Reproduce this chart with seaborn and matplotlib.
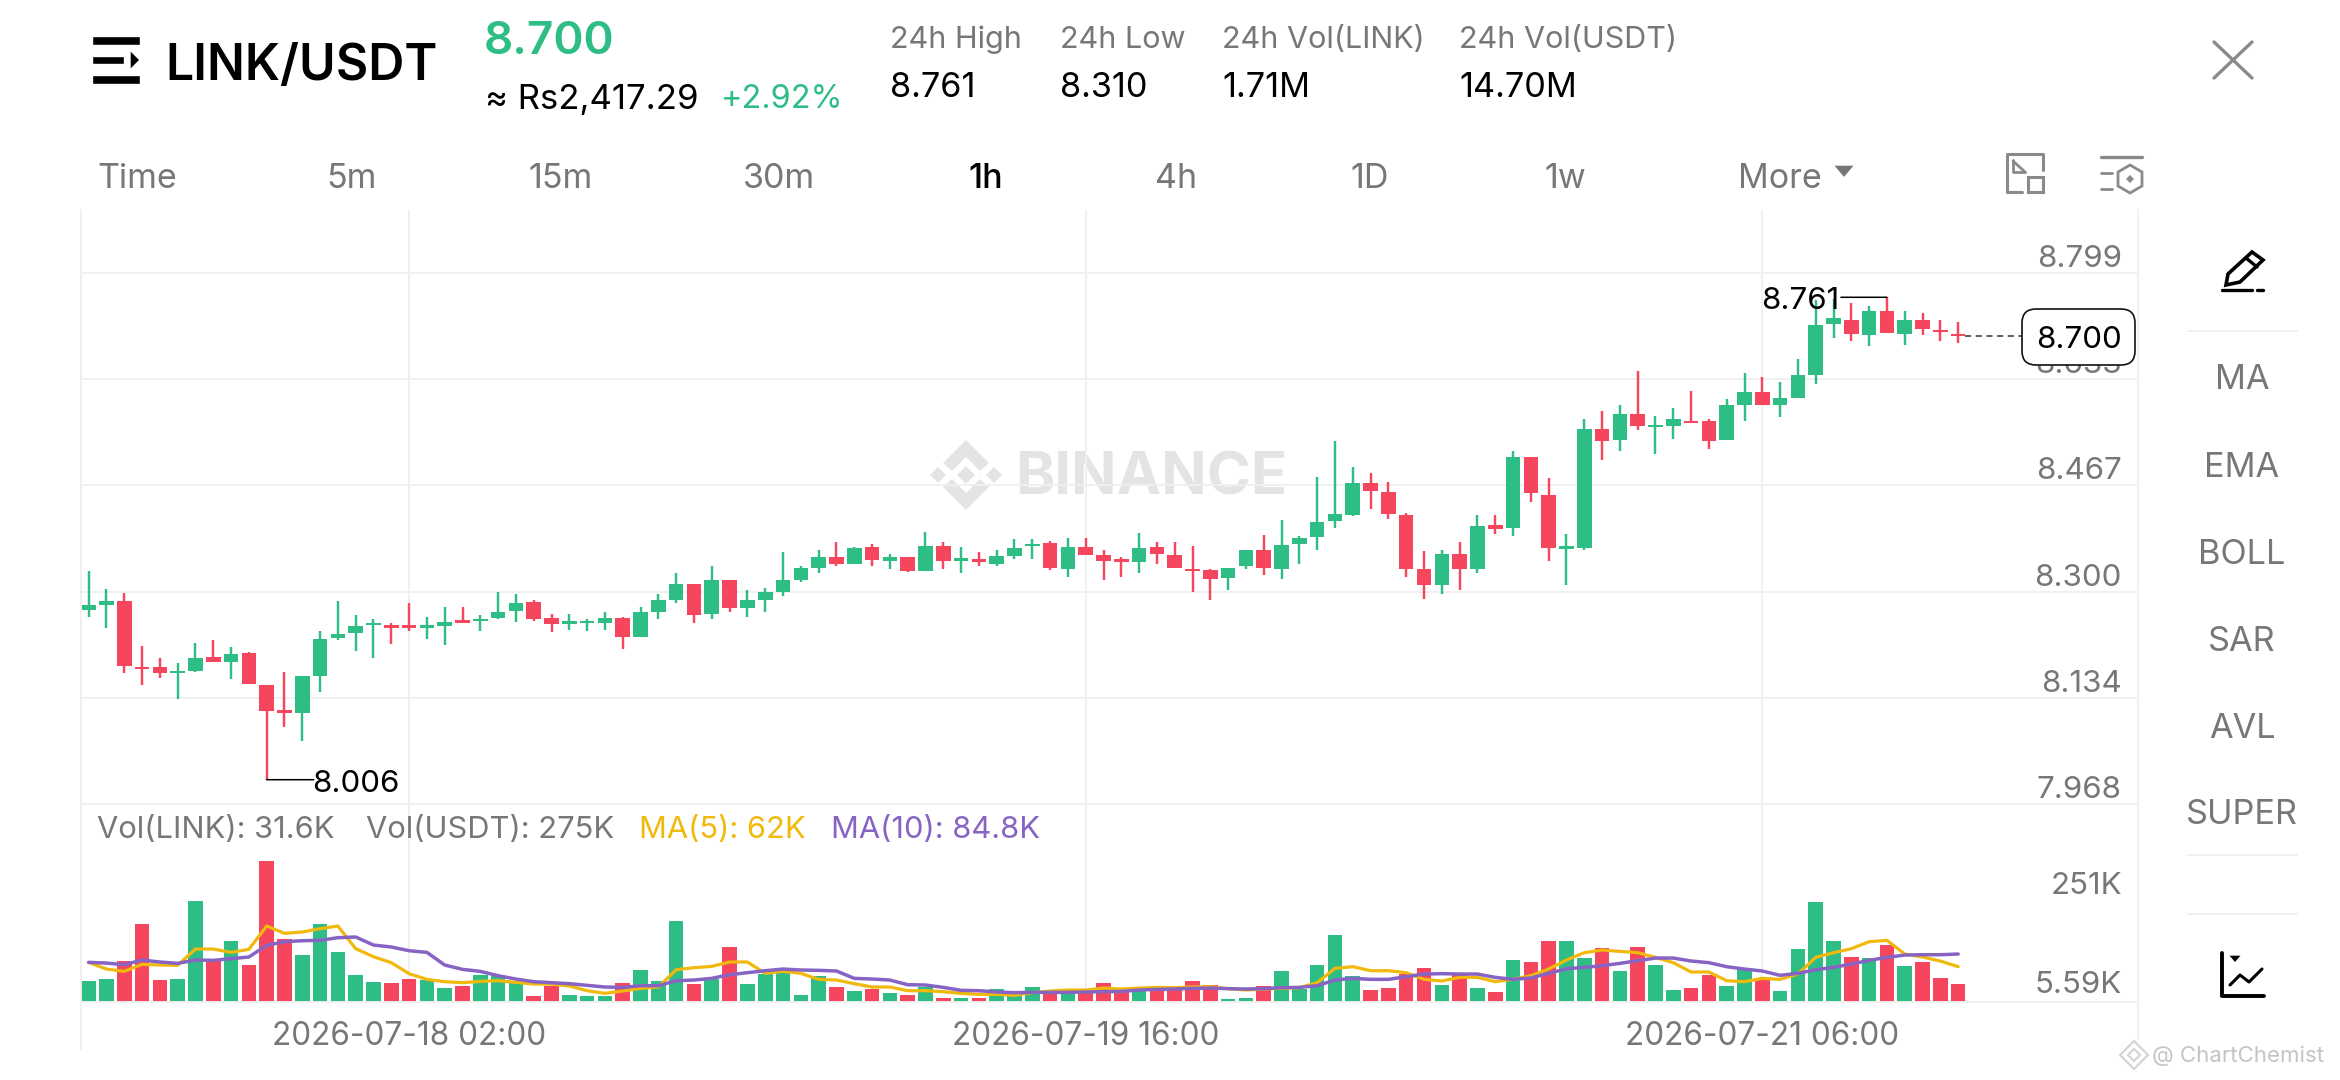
# LINK/USDT 1h candles with volume panel, Binance app style
import numpy as np
import pandas as pd
import seaborn as sns
import matplotlib.pyplot as plt
from matplotlib.patches import FancyBboxPatch, Polygon, Rectangle

opens = [8.271, 8.280, 8.286, 8.182, 8.182, 8.173, 8.176, 8.198, 8.190, 8.204,
         8.154, 8.115, 8.111, 8.169, 8.228, 8.235, 8.248, 8.248, 8.248, 8.244,
         8.247, 8.256, 8.254, 8.259, 8.270, 8.284, 8.259, 8.250, 8.252, 8.252,
         8.259, 8.230, 8.269, 8.288, 8.313, 8.265, 8.319, 8.275, 8.288, 8.300,
         8.319, 8.337, 8.355, 8.344, 8.370, 8.349, 8.354, 8.332, 8.371, 8.348,
         8.352, 8.344, 8.356, 8.371, 8.376, 8.336, 8.370, 8.358, 8.351, 8.346,
         8.370, 8.358, 8.335, 8.334, 8.321, 8.340, 8.366, 8.336, 8.375, 8.386,
         8.411, 8.421, 8.471, 8.457, 8.421, 8.335, 8.311, 8.360, 8.336, 8.404,
         8.400, 8.511, 8.452, 8.367, 8.368, 8.555, 8.537, 8.578, 8.558, 8.560,
         8.568, 8.568, 8.537, 8.593, 8.612, 8.592, 8.603, 8.640, 8.719, 8.726,
         8.702, 8.740, 8.704, 8.726, 8.710, 8.704]
highs = [8.333, 8.305, 8.298, 8.215, 8.196, 8.189, 8.220, 8.225, 8.213, 8.206,
         8.154, 8.174, 8.168, 8.238, 8.286, 8.263, 8.257, 8.252, 8.282, 8.260,
         8.277, 8.276, 8.263, 8.300, 8.296, 8.287, 8.265, 8.266, 8.258, 8.268,
         8.261, 8.276, 8.296, 8.330, 8.313, 8.341, 8.319, 8.303, 8.306, 8.362,
         8.340, 8.365, 8.378, 8.370, 8.375, 8.360, 8.354, 8.393, 8.378, 8.370,
         8.362, 8.365, 8.382, 8.382, 8.379, 8.385, 8.385, 8.366, 8.354, 8.392,
         8.378, 8.378, 8.372, 8.335, 8.338, 8.366, 8.389, 8.412, 8.388, 8.480,
         8.536, 8.496, 8.486, 8.472, 8.424, 8.364, 8.366, 8.378, 8.421, 8.420,
         8.521, 8.511, 8.478, 8.390, 8.571, 8.583, 8.592, 8.646, 8.575, 8.587,
         8.615, 8.571, 8.602, 8.642, 8.637, 8.629, 8.665, 8.756, 8.759, 8.752,
         8.747, 8.761, 8.740, 8.736, 8.725, 8.722]
lows = [8.261, 8.243, 8.173, 8.154, 8.165, 8.133, 8.174, 8.190, 8.164, 8.156,
        8.006, 8.089, 8.067, 8.144, 8.224, 8.208, 8.197, 8.218, 8.238, 8.227,
        8.217, 8.252, 8.238, 8.257, 8.253, 8.255, 8.237, 8.241, 8.239, 8.240,
        8.211, 8.230, 8.258, 8.282, 8.252, 8.257, 8.268, 8.261, 8.269, 8.294,
        8.315, 8.329, 8.340, 8.343, 8.340, 8.336, 8.331, 8.332, 8.335, 8.330,
        8.340, 8.340, 8.352, 8.351, 8.334, 8.324, 8.357, 8.319, 8.324, 8.329,
        8.344, 8.338, 8.299, 8.287, 8.303, 8.335, 8.327, 8.320, 8.343, 8.366,
        8.400, 8.419, 8.429, 8.414, 8.324, 8.289, 8.296, 8.303, 8.329, 8.390,
        8.388, 8.441, 8.348, 8.310, 8.365, 8.506, 8.521, 8.554, 8.515, 8.540,
        8.565, 8.524, 8.537, 8.568, 8.592, 8.573, 8.603, 8.626, 8.698, 8.693,
        8.684, 8.705, 8.687, 8.702, 8.692, 8.690]
closes = [8.279, 8.286, 8.184, 8.179, 8.173, 8.176, 8.197, 8.190, 8.203, 8.156,
          8.114, 8.111, 8.168, 8.227, 8.234, 8.247, 8.252, 8.244, 8.244, 8.248,
          8.253, 8.252, 8.258, 8.268, 8.283, 8.258, 8.250, 8.254, 8.255, 8.259,
          8.230, 8.268, 8.287, 8.313, 8.264, 8.318, 8.274, 8.287, 8.300, 8.318,
          8.337, 8.355, 8.344, 8.369, 8.350, 8.354, 8.332, 8.371, 8.349, 8.353,
          8.346, 8.356, 8.369, 8.375, 8.337, 8.370, 8.358, 8.349, 8.346, 8.369,
          8.359, 8.338, 8.332, 8.320, 8.338, 8.366, 8.338, 8.374, 8.385, 8.410,
          8.422, 8.471, 8.458, 8.422, 8.335, 8.310, 8.360, 8.336, 8.403, 8.399,
          8.511, 8.454, 8.368, 8.371, 8.555, 8.536, 8.579, 8.559, 8.561, 8.570,
          8.565, 8.536, 8.593, 8.613, 8.592, 8.603, 8.640, 8.718, 8.728, 8.703,
          8.740, 8.705, 8.726, 8.712, 8.706, 8.700]

# volume in thousands
volumes = [39.1, 41.8, 70.9, 130.9, 40.2, 42.3, 168.1, 70.9, 104.4, 65.0,
           233.5, 107.7, 81.2, 131.4, 86.6, 48.3, 37.5, 35.8, 41.8, 40.7,
           27.7, 31.0, 48.3, 47.7, 38.0, 14.2, 31.5, 16.9, 14.8, 15.3,
           35.3, 56.9, 38.5, 136.8, 34.2, 41.8, 94.2, 34.2, 50.4, 54.2,
           16.4, 47.2, 29.9, 22.3, 26.7, 19.6, 16.9, 28.8, 12.1, 11.5,
           12.1, 25.6, 16.4, 29.9, 21.8, 21.8, 21.8, 36.4, 27.2, 24.5,
           27.2, 24.5, 39.1, 32.6, 9.9, 12.1, 31.5, 54.7, 25.6, 65.0,
           113.1, 47.2, 24.0, 27.7, 50.4, 60.1, 33.1, 49.3, 27.2, 20.7,
           73.1, 69.3, 103.9, 103.9, 75.8, 93.1, 55.8, 94.7, 65.0, 24.0,
           27.2, 48.8, 31.5, 59.6, 40.7, 22.9, 90.4, 167.1, 103.3, 78.0,
           76.9, 96.9, 63.4, 70.4, 43.9, 33.7]
ma5 = [69.3, 58.5, 54.7, 66.1, 65.0, 64.5, 90.9, 90.9, 85.5, 90.4,
       128.2, 116.3, 118.5, 123.9, 128.2, 91.5, 78.5, 68.8, 51.0, 41.8,
       38.0, 36.4, 38.5, 39.6, 36.9, 34.2, 34.2, 31.0, 23.4, 19.1,
       22.9, 27.2, 29.4, 57.4, 60.7, 62.8, 69.9, 69.9, 51.5, 54.7,
       51.5, 41.8, 40.7, 34.8, 29.4, 29.4, 23.4, 23.4, 21.8, 19.1,
       17.5, 17.5, 15.9, 20.2, 22.9, 24.5, 24.5, 27.7, 26.1, 27.7,
       28.8, 28.3, 29.4, 29.9, 26.7, 24.5, 26.1, 27.2, 28.3, 36.4,
       59.6, 62.3, 55.8, 55.8, 52.6, 41.8, 39.1, 45.0, 45.0, 38.0,
       41.8, 47.7, 58.5, 73.1, 85.0, 89.3, 87.1, 85.0, 77.4, 68.8,
       53.7, 53.7, 39.6, 38.0, 43.4, 41.8, 50.4, 77.4, 85.0, 91.5,
       102.8, 105.0, 82.8, 78.0, 71.5, 62.3]
ma10 = [69.3, 68.2, 65.5, 73.1, 69.9, 67.7, 73.1, 72.6, 75.3, 78.0,
        96.9, 102.8, 104.4, 105.0, 109.3, 110.4, 97.4, 94.2, 88.2, 85.5,
        65.0, 58.0, 54.7, 47.7, 42.3, 38.0, 36.4, 34.8, 32.1, 29.4,
        28.8, 31.5, 31.5, 39.6, 40.7, 43.4, 49.3, 52.6, 55.8, 58.5,
        56.9, 56.4, 55.3, 43.4, 42.3, 40.7, 33.1, 32.6, 28.8, 24.0,
        23.4, 21.3, 20.2, 20.7, 20.7, 20.7, 21.3, 21.8, 22.3, 24.5,
        25.6, 26.1, 27.2, 27.7, 26.7, 26.1, 26.7, 28.3, 28.8, 31.5,
        40.7, 43.4, 41.8, 41.8, 46.1, 50.4, 51.0, 50.4, 50.4, 45.0,
        41.8, 44.0, 51.5, 59.0, 61.2, 63.9, 67.7, 72.0, 76.3, 76.3,
        71.5, 68.8, 62.3, 58.5, 55.3, 48.3, 51.5, 57.4, 61.2, 66.6,
        72.6, 77.4, 81.2, 81.7, 81.7, 82.8]

price_ticks = [8.799, 8.633, 8.467, 8.300, 8.134, 7.968]
price_labels = ['8.799', '8.633', '8.467', '8.300', '8.134', '7.968']
date_pos = [18, 56, 94]
date_labels = ['2026-07-18 02:00', '2026-07-19 16:00', '2026-07-21 06:00']
tabs = ['Time', '5m', '15m', '30m', '1h', '4h', '1D', '1w', 'More']
tab_x = [137, 351, 561, 779, 986, 1176, 1370, 1565, 1780]
stats = [('24h High', '8.761', 890), ('24h Low', '8.310', 1060),
         ('24h Vol(LINK)', '1.71M', 1222), ('24h Vol(USDT)', '14.70M', 1459)]
side_items = ['MA', 'EMA', 'BOLL', 'SAR', 'AVL', 'SUPER']
side_y = [380, 468, 555, 642, 729, 815]

GREEN = '#2ebd85'
RED = '#f6465d'
YELLOW = '#f0b90b'
PURPLE = '#8763c4'
GRID = '#f0f0f0'
GREY = '#777777'
ICON = '#8a8a8a'
W, H = 2340, 1080
FS = 22.5

sns.set_theme(style='white')
plt.rcParams['font.family'] = ['Inter', 'DejaVu Sans']

df = pd.DataFrame({'pos': np.arange(len(opens)), 'open': opens, 'high': highs,
                   'low': lows, 'close': closes, 'vol': volumes})
df['side'] = np.where(df['close'] >= df['open'], 'up', 'down')
df['body_low'] = df[['open', 'close']].min(axis=1)
df['body_h'] = (df['close'] - df['open']).abs()

fig = plt.figure(figsize=(W / 100, H / 100), dpi=100, facecolor='white')


def px_axes(x0, y0, x1, y1, **kw):
    return fig.add_axes([x0 / W, 1 - y1 / H, (x1 - x0) / W, (y1 - y0) / H], **kw)


def overlay(z):
    a = px_axes(0, 0, W, H, zorder=z, facecolor='none')
    a.set_xlim(0, W)
    a.set_ylim(H, 0)
    a.axis('off')
    return a


bg = overlay(0)
main = px_axes(81, 210, 2138, 804, zorder=1, facecolor='none')
vol = px_axes(81, 804, 2138, 1001.7, zorder=1, facecolor='none')
top = overlay(2)

# candles
for side, color in [('up', GREEN), ('down', RED)]:
    sub = df[df['side'] == side]
    main.vlines(sub['pos'], sub['low'], sub['high'], colors=color, lw=1.75)
    sns.barplot(data=sub, x='pos', y='body_h', bottom=sub['body_low'].values, native_scale=True,
                color=color, saturation=1, width=0.82, errorbar=None, linewidth=0, ax=main)

# volume bars and moving averages
sns.barplot(data=df, x='pos', y='vol', hue='side', palette={'up': GREEN, 'down': RED}, native_scale=True,
            dodge=False, saturation=1, width=0.82, errorbar=None, linewidth=0, legend=False, ax=vol)
sns.lineplot(x=df['pos'], y=ma5, color=YELLOW, lw=2.3, errorbar=None, ax=vol)
sns.lineplot(x=df['pos'], y=ma10, color=PURPLE, lw=2.5, errorbar=None, ax=vol)

for a in (main, vol):
    a.set_xlim(-0.427, 115.1)
    a.set_xlabel('')
    a.set_ylabel('')
    a.set_xticks(date_pos)
    a.grid(True, axis='x', color=GRID, lw=1.4)
    a.set_axisbelow(True)
    a.tick_params(length=0)
    for s in a.spines.values():
        s.set_color(GRID)
        s.set_linewidth(1.4)

main.set_ylim(7.968, 8.8976)
main.set_yticks(price_ticks)
main.set_yticklabels([])
main.set_xticklabels([])
main.grid(True, axis='y', color=GRID, lw=1.4)
main.spines['top'].set_visible(False)

vol.set_ylim(5.59, 325.9)
vol.set_yticks([])
vol.set_xticklabels(date_labels, fontsize=22.7, color=GREY)
vol.tick_params(axis='x', pad=14)
top.vlines(81, 1001, 1050, color=GRID, lw=1.4)
top.vlines(2138, 1001, 1040, color=GRID, lw=1.4)

# price labels sit above their grid line
yax = main.get_yaxis_transform()
for v, lab in zip(price_ticks, price_labels):
    main.annotate(lab, xy=(1, v), xycoords=yax, xytext=(-16, 14), textcoords='offset pixels',
                  ha='right', va='center', fontsize=FS, color=GREY)
top.text(2122, 886, '251K', ha='right', va='center', fontsize=FS, color=GREY)
top.text(2122, 985, '5.59K', ha='right', va='center', fontsize=FS, color=GREY)

# high / low markers
i_low = int(np.argmin(lows))
i_high = int(np.argmax(highs))
arrow = dict(arrowstyle='-', color='black', lw=1.1, shrinkA=0, shrinkB=0)
main.annotate('', xy=(i_low, lows[i_low]), xytext=(47, 0), textcoords='offset pixels', arrowprops=arrow)
main.annotate(f'{lows[i_low]:.3f}', xy=(i_low, lows[i_low]), xytext=(45, -4), textcoords='offset pixels',
              ha='left', va='center', fontsize=FS, color='black')
main.annotate('', xy=(i_high, highs[i_high]), xytext=(-46, 0), textcoords='offset pixels', arrowprops=arrow)
main.annotate(f'{highs[i_high]:.3f}', xy=(i_high, highs[i_high]), xytext=(-48, -4), textcoords='offset pixels',
              ha='right', va='center', fontsize=FS, color='black', zorder=6)

# last price tag
main.hlines(closes[-1], len(closes) - 1 + 0.4, 109.3, color='#333333', lw=1.1, linestyles=(0, (4, 3)))
top.add_patch(FancyBboxPatch((2022, 309), 113, 56, boxstyle='round,pad=0,rounding_size=14',
                             fc='white', ec='#111111', lw=1.2, zorder=3))
top.text(2122, 340, '8.700', ha='right', va='center', fontsize=FS, color='black', zorder=4)

# volume legend
for x, s, c in [(97, 'Vol(LINK): 31.6K', GREY), (366, 'Vol(USDT): 275K', GREY),
                (639, 'MA(5): 62K', YELLOW), (831, 'MA(10): 84.8K', PURPLE)]:
    top.text(x, 830, s, ha='left', va='center', fontsize=22.2, color=c)

# BINANCE watermark
WM = '#e4e4e4'
for cx, cy, r in [(966, 475, 9), (938, 475, 8), (994, 475, 8)]:
    bg.add_patch(Polygon([(cx - r, cy), (cx, cy - r), (cx + r, cy), (cx, cy + r)], fc=WM, ec='none'))
bg.add_patch(Polygon([(966, 440), (989, 463), (980, 471), (966, 457), (952, 471), (943, 463)], fc=WM, ec='none'))
bg.add_patch(Polygon([(966, 510), (989, 487), (980, 479), (966, 493), (952, 479), (943, 487)], fc=WM, ec='none'))
bg.text(1015, 479, 'BINANCE', ha='left', va='center', fontsize=43, fontweight='bold', color=WM)

# header
top.add_patch(Rectangle((92, 36), 48, 9, fc='black'))
top.add_patch(Rectangle((92, 56), 32, 8, fc='black'))
top.add_patch(Rectangle((92, 75), 48, 9, fc='black'))
top.add_patch(Polygon([(130, 50), (140, 60), (130, 70)], fc='black'))
top.text(165, 66, 'LINK/USDT', ha='left', va='center', fontsize=36, fontweight='semibold', color='black')
top.text(484, 42, '8.700', ha='left', va='center', fontsize=33, fontweight='semibold', color=GREEN)
top.text(485, 100, '≈ Rs2,417.29', ha='left', va='center', fontsize=25, color='black')
top.text(721, 100, '+2.92%', ha='left', va='center', fontsize=23.4, color=GREEN)
for name, val, x in stats:
    top.text(x, 40, name, ha='left', va='center', fontsize=22, color=GREY)
    top.text(x, 88, val, ha='left', va='center', fontsize=24.7, color='black')
top.plot([2214, 2252], [42, 78], color=ICON, lw=2.4)
top.plot([2214, 2252], [78, 42], color=ICON, lw=2.4)

# interval tabs
for x, s in zip(tab_x, tabs):
    active = s == '1h'
    top.text(x, 179, s, ha='center', va='center', fontsize=24.5,
             color='black' if active else GREY, fontweight='medium' if active else 'normal')
top.add_patch(Polygon([(1833, 165), (1855, 165), (1844, 178)], fc=GREY))
# layout icons
top.plot([2022, 2007, 2007, 2043, 2043], [192, 192, 154, 154, 170], color=ICON, lw=2.2)
top.add_patch(Rectangle((2028, 177), 15, 15, fc='none', ec=ICON, lw=2.2))
top.plot([2013, 2025], [161, 172], color=ICON, lw=2)
top.plot([2013, 2013, 2025], [160, 172, 172], color=ICON, lw=2)
top.plot([2101, 2142], [157, 157], color=ICON, lw=2.4)
top.plot([2101, 2112], [173, 173], color=ICON, lw=2)
top.plot([2101, 2112], [189, 189], color=ICON, lw=2)
top.add_patch(Polygon([(2130, 165), (2142, 172), (2142, 186), (2130, 193), (2118, 186), (2118, 172)],
                      fc='none', ec=ICON, lw=2))
top.add_patch(Polygon([(2130, 174), (2135, 179), (2130, 184), (2125, 179)], fc=ICON))

# indicator column
for y, s in zip(side_y, side_items):
    top.text(2242, y, s, ha='center', va='center', fontsize=24.7, color=GREY)
top.hlines([331, 855, 914], 2187, 2298, color=GRID, lw=1.4)
top.add_patch(Polygon([(2228, 274), (2252, 252), (2263, 260), (2240, 282), (2226, 285)], fc='none', ec='black', lw=2.6))
top.plot([2246, 2257], [258, 267], color='black', lw=2.4)
top.plot([2222, 2252], [290, 290], color='black', lw=2.4)
top.plot([2257, 2263], [290, 290], color='black', lw=2.4)
top.plot([2222, 2222, 2264], [953, 996, 996], color='black', lw=2.8)
top.plot([2230, 2240, 2249, 2262], [985, 975, 982, 969], color='black', lw=2.2)
top.add_patch(Polygon([(2228, 955), (2242, 955), (2235, 963)], fc='black'))

# source mark
top.text(2152, 1056, '@ ChartChemist', ha='left', va='center', fontsize=16, color='#c4c4c4')
top.add_patch(Polygon([(2120, 1055), (2134, 1041), (2148, 1055), (2134, 1069)], fc='none', ec='#d4d4d4', lw=1.5))
top.add_patch(Polygon([(2128, 1055), (2134, 1049), (2140, 1055), (2134, 1061)], fc='none', ec='#d4d4d4', lw=1.5))

fig.savefig('out.png', dpi=100)
